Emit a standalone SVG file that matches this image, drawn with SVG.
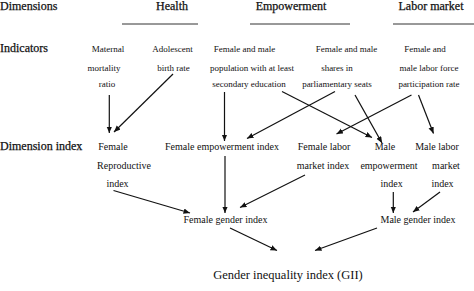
<svg xmlns="http://www.w3.org/2000/svg" width="474" height="291" viewBox="0 0 474 291">
<style>
text{fill:#111}
.h{font-size:12px;stroke:#111;stroke-width:0.25}
.i{font-size:9px;text-anchor:middle}
.d{font-size:10px;text-anchor:middle}
.g{font-size:12.5px;text-anchor:middle}
.c{text-anchor:middle}
.ul{stroke:#333;stroke-width:1}
#connectors line{stroke:#111;stroke-width:1.2;marker-end:url(#ah)}
</style>
<defs>
<marker id="ah" markerUnits="userSpaceOnUse" markerWidth="7" markerHeight="6" refX="6.5" refY="2.75" orient="auto">
<path d="M0,0 L6.5,2.75 L0,5.5 Z" fill="#111"/>
</marker>
</defs>
<rect width="474" height="291" fill="#fff"/>
<g font-family="Liberation Serif, Times New Roman, serif">
<g id="headers">
<text class="h" x="0" y="10">Dimensions</text>
<text class="h c" x="172" y="10">Health</text>
<text class="h c" x="291" y="10">Empowerment</text>
<text class="h c" x="431" y="10">Labor market</text>
<line class="ul" x1="122" y1="24" x2="198" y2="24"/>
<line class="ul" x1="250" y1="24" x2="350" y2="24"/>
<line class="ul" x1="393" y1="24" x2="474" y2="24"/>
<text class="h" x="0" y="51.5">Indicators</text>
<text class="h" x="0" y="150">Dimension index</text>
</g>
<g id="maternal"><text class="i" x="108" y="51.5">Maternal</text><text class="i" x="104" y="70.5">mortality</text><text class="i" x="107" y="87">ratio</text></g>
<g id="adolescent"><text class="i" x="172.5" y="51.5">Adolescent</text><text class="i" x="173.5" y="70.5">birth rate</text></g>
<g id="education"><text class="i" x="244.5" y="51.5">Female and male</text><text class="i" x="252" y="70.5">population with at least</text><text class="i" x="249" y="87">secondary education</text></g>
<g id="parliament"><text class="i" x="346.5" y="51.5">Female and male</text><text class="i" x="337" y="70.5">shares in</text><text class="i" x="337" y="87">parliamentary seats</text></g>
<g id="labor"><text class="i" x="425" y="51.5">Female and</text><text class="i" x="429" y="70.5">male labor force</text><text class="i" x="429" y="87">participation rate</text></g>
<g id="female-reproductive"><text class="d" x="113" y="150">Female</text><text class="d" x="124" y="168.5">Reproductive</text><text class="d" x="117.5" y="187">index</text></g>
<g id="female-empowerment"><text class="d" x="222" y="150">Female empowerment index</text></g>
<g id="female-labor"><text class="d" x="324" y="150">Female labor</text><text class="d" x="323" y="168.5">market index</text></g>
<g id="male-empowerment"><text class="d" x="385" y="150">Male</text><text class="d" x="389" y="168.5">empowerment</text><text class="d" x="391.7" y="187">index</text></g>
<g id="male-labor"><text class="d" x="437" y="150">Male labor</text><text class="d" x="446" y="168.5">market</text><text class="d" x="442.5" y="187">index</text></g>
<g id="female-gender"><text class="d" x="225.5" y="223">Female gender index</text></g>
<g id="male-gender"><text class="d" x="418" y="223">Male gender index</text></g>
<g id="gii"><text class="g" x="288" y="279">Gender inequality index (GII)</text></g>
</g>
<g id="connectors">
<line x1="109.3" y1="95" x2="109.3" y2="133"/>
<line x1="173" y1="74" x2="114" y2="132"/>
<line x1="224.5" y1="92" x2="224.5" y2="141"/>
<line x1="282" y1="91.5" x2="372" y2="137.5"/>
<line x1="335" y1="91.5" x2="247" y2="138.5"/>
<line x1="355" y1="95" x2="382" y2="143"/>
<line x1="411.5" y1="95" x2="336.5" y2="134"/>
<line x1="418.5" y1="95" x2="433.5" y2="133.5"/>
<line x1="113.5" y1="190.5" x2="190" y2="213"/>
<line x1="225" y1="156" x2="225" y2="213"/>
<line x1="305" y1="175" x2="240" y2="207.5"/>
<line x1="393.3" y1="192" x2="393.3" y2="213"/>
<line x1="440" y1="192" x2="413" y2="212"/>
<line x1="230" y1="228" x2="277" y2="250.5"/>
<line x1="377" y1="228" x2="315" y2="250.5"/>
</g>
</svg>
